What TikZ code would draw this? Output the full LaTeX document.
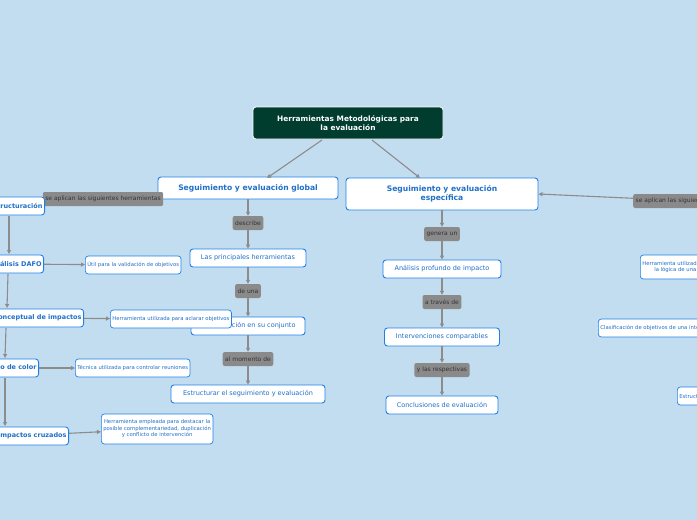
\documentclass[tikz,border=0pt]{standalone}
\usepackage{fontspec}
\setmainfont{DejaVu Sans}
\usetikzlibrary{arrows.meta}
\definecolor{fondo}{HTML}{C3DDF0}
\definecolor{borde}{HTML}{1E80E6}
\definecolor{texto}{HTML}{1F70C8}
\definecolor{raiz}{HTML}{003D2E}
\definecolor{gris}{HTML}{8A8A8A}
\tikzset{
  caja/.style={draw=borde,fill=white,rounded corners=3pt,line width=0.9pt,text=texto,font=\fontsize{6.5}{8}\selectfont,inner sep=2pt,minimum height=18pt,align=center},
  nota/.style={caja,font=\fontsize{5.3}{6.5}\selectfont,line width=0.7pt},
  titulo/.style={caja,font=\bfseries\fontsize{7.6}{9}\selectfont},
  etiqueta/.style={fill=gris,rounded corners=2pt,text=black!80,font=\fontsize{6}{7}\selectfont,inner sep=2.5pt,minimum height=14pt},
  flecha/.style={-{Triangle[length=4pt,width=4pt]},draw=gray!90,line width=1.1pt}
}
\begin{document}
\begin{tikzpicture}[x=1pt,y=-1pt]
  \fill[fondo] (0,0) rectangle (697,520);
  \clip (0,0) rectangle (697,520);

  \node[fill=raiz,draw=white,line width=0.8pt,rounded corners=3pt,text=white,font=\bfseries\fontsize{7.4}{9}\selectfont,align=center,minimum width=190pt,minimum height=32pt] (raiz) at (348,123) {Herramientas Metodológicas para\\la evaluación};

  %rama global
  \node[titulo,minimum width=180pt,minimum height=22pt] (glob) at (248,188) {Seguimiento y evaluación global};
  \node[etiqueta] (e1) at (248,223) {describe};
  \node[caja,minimum width=116pt] (g1) at (248,258) {Las principales herramientas};
  \node[etiqueta] (e2) at (248,291) {de una};
  \node[caja,minimum width=114pt] (g2) at (248,326) {La evaluación en su conjunto};
  \node[etiqueta] (e3) at (248,359) {al momento de};
  \node[caja,minimum width=154pt] (g3) at (248,394) {Estructurar el seguimiento y evaluación};
  \draw[flecha] (glob) -- (e1); \draw[flecha] (e1) -- (g1);
  \draw[flecha] (g1) -- (e2); \draw[flecha] (e2) -- (g2);
  \draw[flecha] (g2) -- (e3); \draw[flecha] (e3) -- (g3);

  %rama especifica
  \node[titulo,minimum width=192pt,minimum height=32pt] (esp) at (442,194) {Seguimiento y evaluación\\específica};
  \node[etiqueta] (f1) at (442,234) {genera un};
  \node[caja,minimum width=118pt] (s1) at (442,269) {Análisis profundo de impacto};
  \node[etiqueta] (f2) at (442,302) {a través de};
  \node[caja,minimum width=115pt] (s2) at (442,337) {Intervenciones comparables};
  \node[etiqueta] (f3) at (442,370) {y las respectivas};
  \node[caja,minimum width=112pt] (s3) at (442,405) {Conclusiones de evaluación};
  \draw[flecha] (esp) -- (f1); \draw[flecha] (f1) -- (s1);
  \draw[flecha] (s1) -- (f2); \draw[flecha] (f2) -- (s2);
  \draw[flecha] (s2) -- (f3); \draw[flecha] (f3) -- (s3);

  \coordinate (a1) at (322,140); \coordinate (a2) at (267,178);
  \coordinate (b1) at (372,140); \coordinate (b2) at (420,178);
  \draw[flecha] (a1) -- (a2);
  \draw[flecha] (b1) -- (b2);

  %derecha
  \node[etiqueta,anchor=west] (der) at (633,201) {se aplican las siguientes herramientas};
  \draw[flecha] (der) -- (esp.east);
  \node[nota,anchor=west,minimum height=24pt] (d1) at (640,267) {Herramienta utilizada para establecer\\la lógica de una intervención};
  \node[nota,anchor=west] (d2) at (598,328) {Clasificación de objetivos de una intervención};
  \node[nota,anchor=west] (d3) at (677,396) {Estructuración};

  %izquierda
  \node[etiqueta] (izq) at (103,199) {se aplican las siguientes herramientas};
  \node[caja,font=\bfseries\fontsize{6.5}{8}\selectfont,anchor=east] (h1) at (45,206) {Estructuración};
  \node[caja,font=\bfseries\fontsize{6.5}{8}\selectfont,anchor=east] (h2) at (44,264) {Análisis DAFO};
  \node[caja,font=\bfseries\fontsize{6.5}{8}\selectfont,anchor=east] (h3) at (84,318) {Mapa conceptual de impactos};
  \node[caja,font=\bfseries\fontsize{6.5}{8}\selectfont,anchor=east] (h4) at (39,368) {Código de color};
  \node[caja,font=\bfseries\fontsize{6.5}{8}\selectfont,anchor=east] (h5) at (69,436) {Matriz de impactos cruzados};
  \coordinate (v1) at (9,216); \coordinate (v2) at (9,254);
  \coordinate (v3) at (8,274); \coordinate (v4) at (7,308);
  \coordinate (v5) at (6,328); \coordinate (v6) at (5,358);
  \coordinate (v7) at (5,378); \coordinate (v8) at (5,426);
  \draw[flecha] (v1) -- (v2); \draw[flecha] (v3) -- (v4);
  \draw[flecha] (v5) -- (v6); \draw[flecha] (v7) -- (v8);

  \node[nota,anchor=west] (n1) at (85,265) {Útil para la validación de objetivos};
  \node[nota,anchor=west] (n3) at (110,319) {Herramienta utilizada para aclarar objetivos};
  \node[nota,anchor=west] (n4) at (75,368) {Técnica utilizada para controlar reuniones};
  \node[nota,anchor=west,minimum height=30pt] (n5) at (101,429) {Herramienta empleada para destacar la\\posible complementariedad, duplicación\\y conflicto de intervención};
  \draw[flecha] (h2) -- (n1);
  \draw[flecha] (h3) -- (n3);
  \draw[flecha] (h4) -- (n4);
  \draw[flecha] (h5) -- (n5);
\end{tikzpicture}
\end{document}
